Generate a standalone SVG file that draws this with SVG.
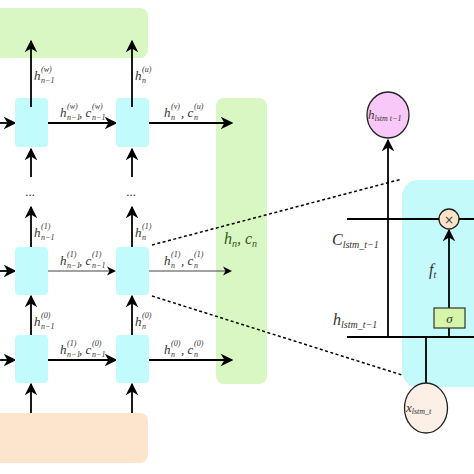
<svg xmlns="http://www.w3.org/2000/svg" width="474" height="474" viewBox="0 0 474 474">
<defs>
<marker id="ah2" viewBox="0 0 10 10" refX="9" refY="5" markerWidth="7" markerHeight="7" orient="auto" markerUnits="strokeWidth">
<path d="M0,0 L10,5 L0,10 L3,5 z" fill="#000"/>
</marker>
<style>
.cell{fill:#c2fbfb}
.ln{stroke:#000;stroke-width:1.8;fill:none}
.thin{stroke:#444;stroke-width:1;fill:none}
.dash{stroke:#000;stroke-width:1.5;stroke-dasharray:3 2.5;fill:none}
.m{font-family:"Liberation Serif",serif;font-style:italic;font-size:13px;fill:#333}
.s{font-family:"Liberation Serif",serif;font-style:italic;font-size:8px;fill:#333}
.big{font-family:"Liberation Serif",serif;font-style:italic;font-size:16px;fill:#2f5a1f}
.lb{font-family:"Liberation Serif",serif;font-style:italic;font-size:16px;fill:#333}
</style>
</defs>

<g id="top-block"><rect x="-10" y="8" width="158" height="50" rx="8" fill="#d9f7c2"/></g>
<g id="bottom-block"><rect x="-10" y="413" width="158" height="50" rx="8" fill="#fde4cc"/></g>
<g id="output-block"><rect x="216" y="98" width="51" height="286" rx="8" fill="#d9f7c2"/>
<text class="big" x="224" y="244">h<tspan font-size="10" dy="3">n</tspan><tspan dy="-3">, c</tspan><tspan font-size="10" dy="3">n</tspan></text></g>

<g id="lstm-panel"><rect x="402" y="180" width="100" height="207" rx="16" fill="#c4fafa"/></g>

<g id="connectors">
<line class="ln" x1="31" y1="107" x2="31" y2="41" marker-end="url(#ah2)"/>
<line class="ln" x1="31" y1="177" x2="31" y2="149" marker-end="url(#ah2)"/>
<line class="ln" x1="31" y1="250" x2="31" y2="207" marker-end="url(#ah2)"/>
<line class="ln" x1="31" y1="337" x2="31" y2="296" marker-end="url(#ah2)"/>
<line class="ln" x1="31" y1="413" x2="31" y2="384" marker-end="url(#ah2)"/>
<line class="ln" x1="132" y1="107" x2="132" y2="41" marker-end="url(#ah2)"/>
<line class="ln" x1="132" y1="177" x2="132" y2="149" marker-end="url(#ah2)"/>
<line class="ln" x1="132" y1="250" x2="132" y2="207" marker-end="url(#ah2)"/>
<line class="ln" x1="132" y1="337" x2="132" y2="296" marker-end="url(#ah2)"/>
<line class="ln" x1="132" y1="413" x2="132" y2="384" marker-end="url(#ah2)"/>
<line class="ln" x1="0" y1="123" x2="15" y2="123" marker-end="url(#ah2)"/>
<line class="ln" x1="48" y1="123" x2="116" y2="123" marker-end="url(#ah2)"/>
<line class="ln" x1="149" y1="123" x2="232" y2="123" marker-end="url(#ah2)"/>
<line class="ln" x1="0" y1="271" x2="15" y2="271" marker-end="url(#ah2)"/>
<line class="thin" x1="48" y1="271" x2="114" y2="271"/>
<path d="M107,266.5 L116,271 L107,275.5 L109.5,271 z" fill="#000"/>
<line class="thin" x1="149" y1="271" x2="230" y2="271"/>
<path d="M223,266.5 L232,271 L223,275.5 L225.5,271 z" fill="#000"/>
<line class="ln" x1="0" y1="360" x2="15" y2="360" marker-end="url(#ah2)"/>
<line class="ln" x1="48" y1="360" x2="116" y2="360" marker-end="url(#ah2)"/>
<line class="ln" x1="149" y1="360" x2="232" y2="360" marker-end="url(#ah2)"/>
<line class="dash" x1="152" y1="245" x2="402" y2="179"/>
<line class="dash" x1="152" y1="296" x2="402" y2="375"/>
<line class="ln" x1="347" y1="219" x2="474" y2="219"/>
<line class="ln" x1="347" y1="337" x2="474" y2="337"/>
<line class="ln" x1="388" y1="337" x2="388" y2="140" marker-end="url(#ah2)"/>
<line class="ln" x1="449" y1="337" x2="449" y2="230" marker-end="url(#ah2)"/>
<line class="ln" x1="426" y1="337" x2="426" y2="384"/>
</g>

<g id="cells">
<rect class="cell" x="15" y="98" width="33" height="49" rx="4"/>
<rect class="cell" x="116" y="98" width="33" height="49" rx="4"/>
<rect class="cell" x="15" y="247" width="33" height="48" rx="4"/>
<rect class="cell" x="116" y="247" width="33" height="48" rx="4"/>
<rect class="cell" x="15" y="335" width="33" height="48" rx="4"/>
<rect class="cell" x="116" y="335" width="33" height="48" rx="4"/>
<line class="ln" x1="31" y1="98" x2="31" y2="107"/>
<line class="ln" x1="132" y1="98" x2="132" y2="107"/>
</g>

<g id="dots">
<text class="m" x="25" y="199">···</text>
<text class="m" x="126" y="199">···</text>
</g>

<g id="labels">
<text class="m" x="34" y="80">h</text><text class="s" x="41" y="72">(w)</text><text class="s" x="41" y="83">n−1</text>
<text class="m" x="135" y="80">h</text><text class="s" x="142" y="72">(u)</text><text class="s" x="142" y="83">n</text>
<text class="m" x="34" y="237">h</text><text class="s" x="41" y="229">(1)</text><text class="s" x="41" y="240">n−1</text>
<text class="m" x="135" y="237">h</text><text class="s" x="142" y="229">(1)</text><text class="s" x="142" y="240">n</text>
<text class="m" x="34" y="326">h</text><text class="s" x="41" y="318">(0)</text><text class="s" x="41" y="329">n−1</text>
<text class="m" x="135" y="326">h</text><text class="s" x="142" y="318">(0)</text><text class="s" x="142" y="329">n</text>

<text class="m" x="60" y="117">h</text><text class="s" x="67" y="109">(w)</text><text class="s" x="67" y="120">n−1</text><text class="m" x="79" y="117">, c</text><text class="s" x="92" y="109">(w)</text><text class="s" x="92" y="120">n−1</text>
<text class="m" x="60" y="265">h</text><text class="s" x="67" y="257">(1)</text><text class="s" x="67" y="268">n−1</text><text class="m" x="79" y="265">, c</text><text class="s" x="92" y="257">(1)</text><text class="s" x="92" y="268">n−1</text>
<text class="m" x="60" y="354">h</text><text class="s" x="67" y="346">(1)</text><text class="s" x="67" y="357">n−1</text><text class="m" x="79" y="354">, c</text><text class="s" x="92" y="346">(0)</text><text class="s" x="92" y="357">n−1</text>

<text class="m" x="164" y="117">h</text><text class="s" x="171" y="109">(v)</text><text class="s" x="171" y="120">n</text><text class="m" x="181" y="117">, c</text><text class="s" x="194" y="109">(u)</text><text class="s" x="194" y="120">n</text>
<text class="m" x="164" y="265">h</text><text class="s" x="171" y="257">(1)</text><text class="s" x="171" y="268">n</text><text class="m" x="181" y="265">, c</text><text class="s" x="194" y="257">(1)</text><text class="s" x="194" y="268">n</text>
<text class="m" x="164" y="354">h</text><text class="s" x="171" y="346">(0)</text><text class="s" x="171" y="357">n</text><text class="m" x="181" y="354">, c</text><text class="s" x="194" y="346">(0)</text><text class="s" x="194" y="357">n</text>

<text class="lb" x="332" y="245">C<tspan font-size="10" dy="3">lstm_t−1</tspan></text>
<text class="lb" x="333" y="325">h<tspan font-size="10" dy="3">lstm_t−1</tspan></text>
<text class="lb" x="429" y="275">f<tspan font-size="10" dy="3">t</tspan></text>
</g>

<g id="h-node"><ellipse cx="388" cy="115" rx="21" ry="23" fill="#f8c9f8" stroke="#222" stroke-width="1.3"/>
<text class="m" x="368" y="119" font-size="12">h<tspan font-size="8" dy="2">lstm t−1</tspan></text></g>

<g id="x-node"><ellipse cx="426" cy="408" rx="21.5" ry="25" fill="#fcefe6" stroke="#222" stroke-width="1.3"/>
<text class="m" x="406" y="412" font-size="14">x<tspan font-size="8" dy="2">lstm_t</tspan></text></g>

<g id="mult-node"><circle cx="449" cy="219" r="10" fill="#fde3c8" stroke="#222" stroke-width="1.3"/>
<text x="449" y="223.5" text-anchor="middle" font-family="DejaVu Sans, sans-serif" font-size="12" fill="#444">×</text></g>

<g id="sigma-node"><rect x="434" y="308" width="31" height="20" fill="#d6f5a8" stroke="#333" stroke-width="1.2"/>
<text class="m" x="449.5" y="323" text-anchor="middle" font-size="15">σ</text></g>
</svg>
